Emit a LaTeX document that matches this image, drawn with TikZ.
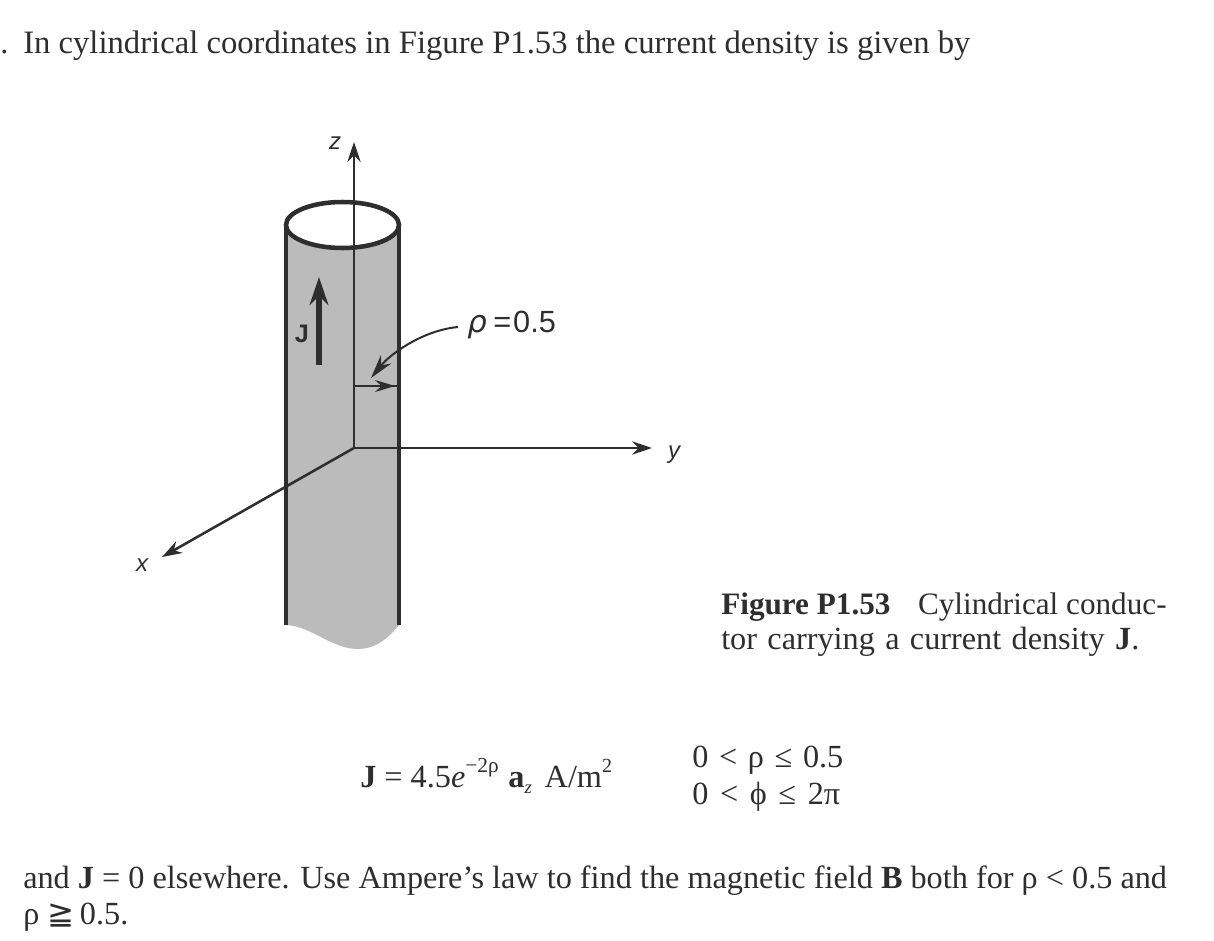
\documentclass[tikz,border=0pt]{standalone}
\usepackage{fontspec}
\setmainfont{Liberation Serif}
\setsansfont{Liberation Sans}
\newfontfamily\symfont{DejaVu Sans}
\usetikzlibrary{arrows.meta}
\definecolor{ink}{HTML}{2E2E2E}
\definecolor{fillgray}{HTML}{BBBBBB}
\tikzset{
  body/.style={inner sep=0pt,anchor=base west,text=ink,font=\fontsize{24.2}{28}\selectfont},
  axlabel/.style={inner sep=0pt,anchor=base,text=ink,font=\sffamily\itshape\fontsize{18}{20}\selectfont},
  wall/.style={draw=ink,line width=3.6pt},
  axis/.style={draw=ink,line width=1.9pt,-{Stealth[length=15pt,width=10pt]}},
}
\begin{document}
\begin{tikzpicture}[x=0.75pt,y=-0.75pt]
\useasboundingbox (0,0) rectangle (1214,941);
% cylinder
\coordinate (wallTL) at (286,225);
\coordinate (wallTR) at (399,225);
\coordinate (wallBL) at (286,625);
\coordinate (wallBR) at (399,625);
\fill[fillgray] (wallTL) -- (wallBL) .. controls (312,626) and (332,650) .. (360,649) .. controls (378,648) and (390,636) .. (wallBR) -- (wallTR) -- cycle;
\fill[white] (342.5,225) ellipse [x radius=56.5,y radius=23];
\draw[wall] (wallTL) -- (wallBL);
\draw[wall] (wallTR) -- (wallBR);
\draw[draw=ink,line width=3.4pt] (342.5,225) ellipse [x radius=56.5,y radius=23];
% axes
\coordinate (origin) at (354,448);
\coordinate (zend) at (354,142);
\coordinate (yend) at (652,448);
\coordinate (xend) at (162,557);
\draw[axis] (origin) -- (zend);
\draw[axis] (origin) -- (yend);
\draw[axis] (origin) -- (xend);
\node[axlabel] (zlabel) at (335,150) {z};
\node[axlabel] (ylabel) at (674,458) {y};
\node[axlabel] (xlabel) at (142,571) {x};
% J arrow
\coordinate (jtail) at (319,365);
\coordinate (jtip) at (319,277);
\draw[draw=ink,line width=3.8pt,-{Stealth[length=21pt,width=14pt]}] (jtail) -- (jtip);
\node[inner sep=0pt,anchor=base,text=ink,font=\sffamily\bfseries\fontsize{19}{20}\selectfont] (jlabel) at (302,343) {J};
% rho
\node[inner sep=0pt,anchor=base west,text=ink,font=\fontsize{23}{24}\selectfont] (rholabel) at (467,333) {\symfont\itshape ρ\hspace{0.22em}\sffamily\upshape =\hspace{0.06em}0.5};
\coordinate (rhostart) at (458,327);
\coordinate (rhotip) at (371,378);
\draw[draw=ink,line width=1.5pt,-{Stealth[length=18pt,width=10pt]}] (rhostart) .. controls (425,330) and (392,352) .. (rhotip);
\coordinate (rstart) at (354,386);
\coordinate (rend) at (398,386);
\coordinate (rtip) at (395,386);
\draw[draw=ink,line width=1.1pt] (rstart) -- (rend);
\draw[draw=ink,line width=1.1pt,-{Stealth[length=15pt,width=9pt]}] (rstart) -- (rtip);
% texts
\node[body] (stray) at (0,54) {.};
\node[body,font=\fontsize{24.5}{28}\selectfont] (line1) at (23,54) {In cylindrical coordinates in Figure P1.53 the current density is given by};
\node[body,font=\fontsize{23.4}{28}\selectfont] (cap1) at (721,614) {\textbf{Figure P1.53}\hspace{0.88em}Cylindrical conduc-};
\node[body] (cap2) at (721,649) {\spaceskip=0.32em tor carrying a current density \textbf{J}.};
\node[body] (eq) at (360,787) {\textbf{J} = 4.5\textit{e}\raisebox{0.45em}{\fontsize{16}{18}\selectfont −2ρ}\hspace{0.3em}\textbf{a}\raisebox{-0.2em}{\fontsize{14}{16}\selectfont\textit{z}}\hspace{0.4em}A/m\raisebox{0.45em}{\fontsize{15}{18}\selectfont 2}};
\node[body] (cond1) at (692,767) {\spaceskip=0.33em 0 < ρ ≤ 0.5};
\node[body] (cond2) at (692,804) {\spaceskip=0.36em 0 < ϕ ≤ 2π};
\node[body] (line2) at (23,888) {and \textbf{J} = 0 elsewhere. Use Ampere’s law to find the magnetic field \textbf{B} both for ρ < 0.5 and};
\node[body] (line3) at (23,924) {ρ {\symfont ≧}\hspace{-0.08em} 0.5.};
\end{tikzpicture}
\end{document}
